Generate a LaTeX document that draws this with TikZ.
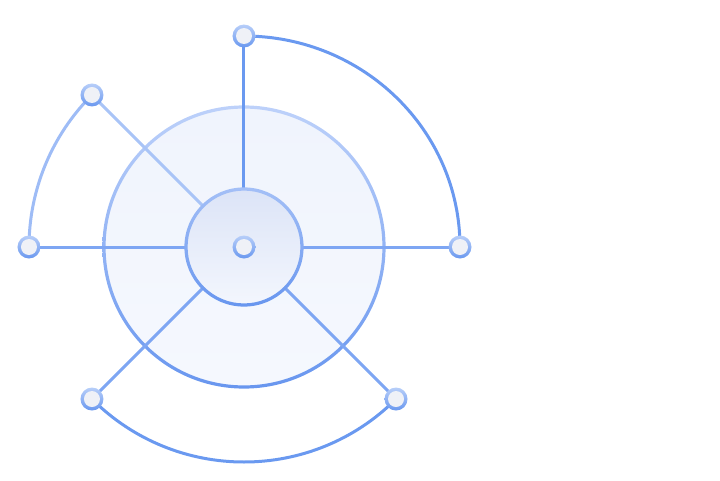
\documentclass[tikz,border=0pt]{standalone}
\usepackage{tikz}
\usetikzlibrary{calc}

\definecolor{ringtop}{HTML}{BDD1FA}
\definecolor{ringbot}{HTML}{6896EF}
\definecolor{spoke}{HTML}{6A99F0}
\definecolor{spokelight}{HTML}{A9C4F7}
\definecolor{spokemid}{HTML}{7EA6F3}
\definecolor{dottop}{HTML}{B7CEF9}
\definecolor{dotbot}{HTML}{6A98EF}
\definecolor{dotfill}{HTML}{EFF1F7}
\definecolor{outerfill}{HTML}{F5F8FE}
\definecolor{innertop}{HTML}{DCE4F7}
\definecolor{innerbot}{HTML}{F3F6FD}

\tikzset{
	dot/.style={circle, minimum size=23pt, inner sep=0pt, top color=dottop, bottom color=dotbot,
		path picture={\fill[dotfill] (path picture bounding box.center) circle (8pt);}},
	wire/.style={line width=3pt, line cap=round}
}

\begin{document}
\begin{tikzpicture}[x=1pt, y=1pt]
	\useasboundingbox (-244,-233) rectangle (476,247);
	
	\coordinate (o) at (0,0);
	\foreach \a/\r in {90/211, 0/216, 180/215, 135/215, 225/215, 315/215}{
		\coordinate (p\a) at (\a:\r);
	}
	
	% outer disc
	\shade [top color=outerfill!80!innertop, bottom color=outerfill] (o) circle (140);
	\shade [top color=ringtop, bottom color=ringbot, even odd rule] (o) circle (141.6) (o) circle (138.4);
	
	% arcs
	\draw [wire, spoke] (p90) arc[start angle=90, end angle=0, x radius=216, y radius=211];
	\draw [wire, spokelight!75!spokemid] (p180) arc[start angle=180, end angle=135, radius=215];
	\draw [wire, spoke] (p225) arc[start angle=225, end angle=315, radius=215];
	
	% spokes
	\foreach \a/\c in {90/spoke, 0/spokemid, 180/spokemid, 135/spokelight, 225/spokemid, 315/spokemid}{
		\draw [wire, \c] (o) -- (p\a);
	}
	
	% inner disc
	\shade [top color=innertop, bottom color=innerbot] (o) circle (58);
	\shade [top color=ringtop!70!ringbot, bottom color=ringbot, even odd rule] (o) circle (59.6) (o) circle (56.4);
	
	\node [dot] (hub) at (o) {};
	\foreach \a in {90, 0, 180, 135, 225, 315}{
		\node [dot] (n\a) at (p\a) {};
	}
	
\end{tikzpicture}
\end{document}
